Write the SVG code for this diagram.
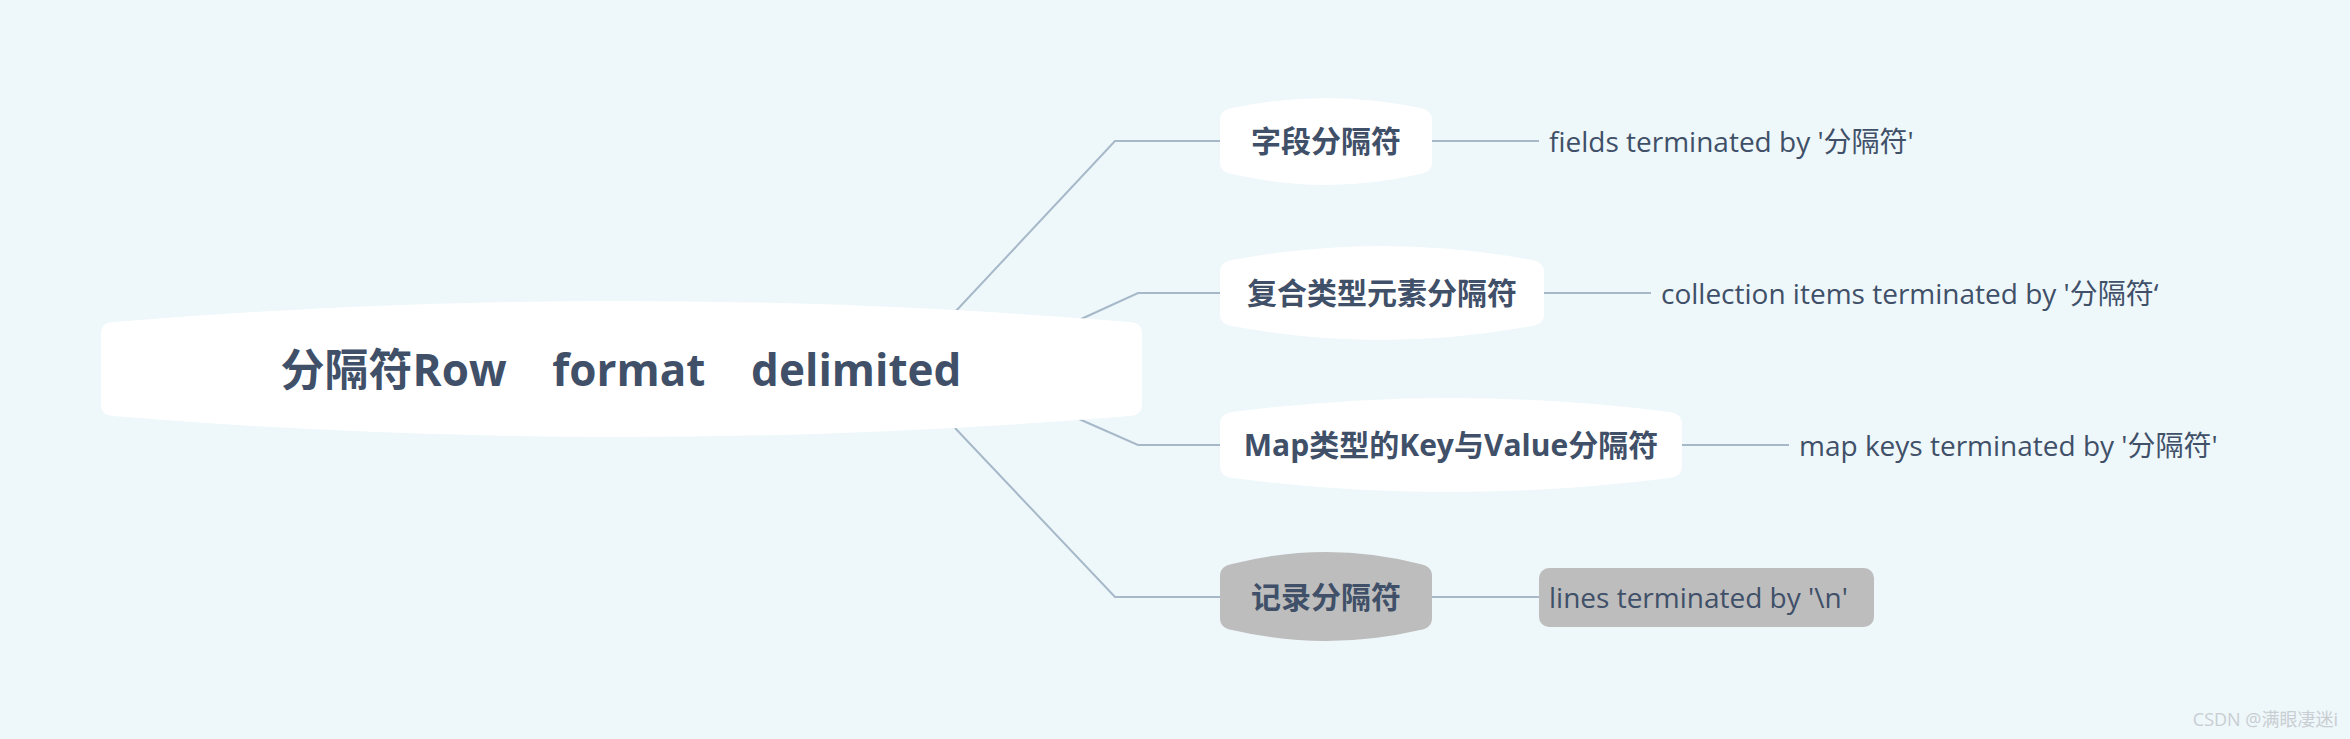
<svg xmlns="http://www.w3.org/2000/svg" width="2350" height="739" viewBox="0 0 2350 739">
<style>
.bg{fill:#eef7fa}
.n{fill:#ffffff}
.g{fill:#bdbdbd}
.t{font-family:"Open Sans","Noto Sans CJK SC",sans-serif;fill:#3f5068}
.b{font-weight:bold}
.c{stroke:#a7b9c9;stroke-width:2;fill:none}
</style>
<rect class="bg" width="2350" height="739"/>
<g id="connectors">
<polyline class="c" points="955,312 1115,141 1222,141"/>
<polyline class="c" points="1079,320 1138,293 1222,293"/>
<polyline class="c" points="1079,419 1138,445 1222,445"/>
<polyline class="c" points="955,428 1115,597 1222,597"/>
<line class="c" x1="1432" y1="141" x2="1539" y2="141"/>
<line class="c" x1="1544" y1="293" x2="1651" y2="293"/>
<line class="c" x1="1682" y1="445" x2="1789" y2="445"/>
<line class="c" x1="1432" y1="597" x2="1539" y2="597"/>
</g>
<g id="root">
<path class="n" d="M101,333 Q101,323 113,322 Q620,280 1130,322 Q1142,323 1142,333 L1142,405 Q1142,415 1130,416 Q620,458 113,416 Q101,415 101,405 Z"/>
<text class="t b" x="621" y="386" font-size="44" text-anchor="middle" xml:space="preserve">分隔符Row    format    delimited</text>
</g>
<g id="n1">
<path class="n" d="M1220,120 Q1220,110 1232,108 Q1326,88 1420,108 Q1432,110 1432,120 L1432,162 Q1432,172 1420,174 Q1326,196 1232,174 Q1220,172 1220,162 Z"/>
<text class="t b" x="1326" y="152" font-size="30" text-anchor="middle">字段分隔符</text>
</g>
<g id="l1"><text class="t" x="1549" y="152" font-size="28">fields terminated by '分隔符'</text></g>
<g id="n2">
<path class="n" d="M1220,272 Q1220,262 1232,260 Q1382,232 1532,260 Q1544,262 1544,272 L1544,314 Q1544,324 1532,326 Q1382,354 1232,326 Q1220,324 1220,314 Z"/>
<text class="t b" x="1382" y="304" font-size="30" text-anchor="middle">复合类型元素分隔符</text>
</g>
<g id="l2"><text class="t" x="1661" y="304" font-size="28">collection items terminated by '分隔符‘</text></g>
<g id="n3">
<path class="n" d="M1220,424 Q1220,414 1232,412 Q1451,384 1670,412 Q1682,414 1682,424 L1682,466 Q1682,476 1670,478 Q1451,506 1232,478 Q1220,476 1220,466 Z"/>
<text class="t b" x="1451" y="456" font-size="30" text-anchor="middle">Map类型的Key与Value分隔符</text>
</g>
<g id="l3"><text class="t" x="1799" y="456" font-size="28">map keys terminated by '分隔符'</text></g>
<g id="n4">
<path class="g" d="M1220,576 Q1220,566 1232,564 Q1326,540 1420,564 Q1432,566 1432,576 L1432,618 Q1432,628 1420,630 Q1326,652 1232,630 Q1220,628 1220,618 Z"/>
<text class="t b" x="1326" y="608" font-size="30" text-anchor="middle">记录分隔符</text>
</g>
<g id="l4">
<rect class="g" x="1539" y="568" width="335" height="59" rx="10"/>
<text class="t" x="1549" y="608" font-size="28">lines terminated by '\n'</text>
</g>
<text x="2338" y="726" font-size="18" text-anchor="end" fill="#c9ced2" font-family="'Open Sans','Noto Sans CJK SC',sans-serif">CSDN @满眼凄迷i</text>
</svg>
